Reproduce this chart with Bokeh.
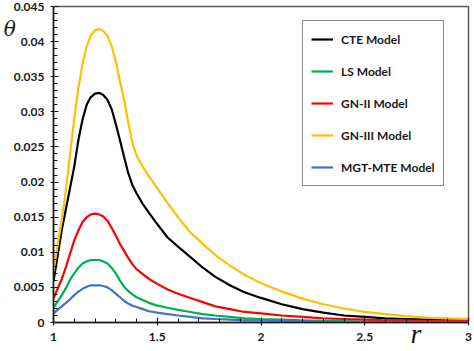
from bokeh.plotting import figure
from bokeh.models import Range1d, FixedTicker, Legend, LegendItem
from bokeh.embed import file_html
from bokeh.resources import INLINE

r = [1.00, 1.02, 1.04, 1.06, 1.08, 1.10, 1.12, 1.14, 1.16, 1.18, 1.20, 1.22, 1.24, 1.26,
     1.28, 1.30, 1.32, 1.34, 1.36, 1.38, 1.40, 1.43, 1.46, 1.50, 1.55, 1.60, 1.66, 1.72,
     1.78, 1.85, 1.92, 2.00, 2.10, 2.20, 2.30, 2.40, 2.50, 2.60, 2.70, 2.80, 2.90, 3.00]

cte = [0.0059, 0.0095, 0.0132, 0.0162, 0.0192, 0.0222, 0.0260, 0.0289, 0.0310, 0.0321,
       0.0326, 0.0327, 0.0324, 0.0317, 0.0304, 0.0283, 0.0260, 0.0236, 0.0213, 0.0196,
       0.0184, 0.0169, 0.0156, 0.0140, 0.0121, 0.0108, 0.0093, 0.0078, 0.0065, 0.0053,
       0.0043, 0.0035, 0.0026, 0.0019, 0.0014, 0.0010, 0.0008, 0.0006, 0.0005, 0.0004,
       0.0003, 0.0003]

ls = [0.0021, 0.0030, 0.0039, 0.0049, 0.0061, 0.0070, 0.0078, 0.0084, 0.0087, 0.0089,
      0.0089, 0.0089, 0.0087, 0.0084, 0.0078, 0.0070, 0.0060, 0.0051, 0.0045, 0.0040,
      0.0036, 0.0032, 0.0028, 0.0024, 0.0021, 0.0018, 0.0015, 0.0012, 0.0010, 0.0008,
      0.0006, 0.0005, 0.0004, 0.0003, 0.0002, 0.0002, 0.0001, 0.0001, 0.0001, 0.0001,
      0.0001, 0.0001]

gn2 = [0.0034, 0.0048, 0.0062, 0.0079, 0.0098, 0.0117, 0.0131, 0.0143, 0.0150, 0.0154,
       0.0155, 0.0154, 0.0151, 0.0145, 0.0135, 0.0124, 0.0112, 0.0102, 0.0092, 0.0083,
       0.0076, 0.0069, 0.0062, 0.0055, 0.0047, 0.0041, 0.0035, 0.0029, 0.0023, 0.0019,
       0.0015, 0.0013, 0.0010, 0.0008, 0.0006, 0.0005, 0.0004, 0.0003, 0.0003, 0.0002,
       0.0002, 0.0002]

gn3 = [0.0073, 0.0110, 0.0146, 0.0190, 0.0240, 0.0290, 0.0334, 0.0368, 0.0393, 0.0409,
       0.0416, 0.0418, 0.0415, 0.0408, 0.0394, 0.0372, 0.0344, 0.0318, 0.0285, 0.0256,
       0.0238, 0.0222, 0.0208, 0.0191, 0.0170, 0.0150, 0.0128, 0.0112, 0.0096, 0.0081,
       0.0068, 0.0056, 0.0044, 0.0034, 0.0026, 0.0020, 0.0015, 0.0012, 0.0009, 0.0007,
       0.0006, 0.0005]

mgt = [0.0013, 0.0018, 0.0023, 0.0028, 0.0033, 0.0039, 0.0044, 0.0048, 0.0051, 0.0053,
       0.0053, 0.0053, 0.0052, 0.0050, 0.0046, 0.0041, 0.0036, 0.0031, 0.0027, 0.0024,
       0.0022, 0.0019, 0.0016, 0.0014, 0.0012, 0.0010, 0.0008, 0.0006, 0.0005, 0.0004,
       0.0003, 0.0003, 0.0002, 0.0002, 0.0001, 0.0001, 0.0001, 0.0001, 0.0001, 0.0001,
       0.0001, 0.0001]

x_ticks = [1, 1.5, 2, 2.5, 3]
x_labels = ["1", "1.5", "2", "2.5", "3"]
y_ticks = [0, 0.005, 0.01, 0.015, 0.02, 0.025, 0.03, 0.035, 0.04, 0.045]
y_labels = ["0", "0.005", "0.01", "0.015", "0.02", "0.025", "0.03", "0.035", "0.04", "0.045"]

series = [("CTE Model", cte, "#000000"),
          ("LS Model", ls, "#00B050"),
          ("GN-II Model", gn2, "#FF0000"),
          ("GN-III Model", gn3, "#FFC000"),
          ("MGT-MTE Model", mgt, "#4472C4")]

p = figure(width=474, height=351, output_backend="svg", toolbar_location=None,
           x_range=Range1d(1, 3), y_range=Range1d(0, 0.045),
           min_border_left=10, min_border_right=6, min_border_top=6, min_border_bottom=28)

p.xgrid.visible = False
p.ygrid.visible = False
p.outline_line_color = "#595959"
p.outline_line_width = 1.5
p.background_fill_color = "white"
p.border_fill_color = "white"

items = []
renderers = {}
for name, vals, col in series:
    renderers[name] = p.line(r, vals, line_color=col, line_width=2.2)
for name, vals, col in series:
    items.append(LegendItem(label=name, renderers=[renderers[name]]))

for ax in (p.xaxis[0], p.yaxis[0]):
    ax.axis_line_color = "#1a1a1a"
    ax.axis_line_width = 1.5
    ax.major_tick_line_color = "#1a1a1a"
    ax.minor_tick_line_color = "#1a1a1a"
    ax.major_tick_line_width = 1.2
    ax.minor_tick_line_width = 1
    ax.major_tick_in = 5
    ax.major_tick_out = 3
    ax.minor_tick_in = 4
    ax.minor_tick_out = 0
    ax.major_label_text_font = "Lato"
    ax.major_label_text_font_style = "bold"
    ax.major_label_text_font_size = "12px"
    ax.major_label_text_color = "#1a1a1a"

p.xaxis[0].ticker = FixedTicker(ticks=x_ticks,
                                minor_ticks=[1 + 0.1 * i for i in range(21)])
p.xaxis[0].major_label_overrides = dict(zip(x_ticks, x_labels))
p.xaxis[0].major_label_standoff = 7
p.yaxis[0].ticker = FixedTicker(ticks=y_ticks,
                                minor_ticks=[0.001 * i for i in range(46)])
p.yaxis[0].major_label_overrides = dict(zip(y_ticks, y_labels))
p.yaxis[0].major_label_standoff = 6

yax = p.yaxis[0]
yax.axis_label = "\nθ"
yax.axis_label_orientation = "horizontal"
yax.axis_label_align = "end"
yax.axis_label_standoff = -5
yax.axis_label_text_font = "DejaVu Serif"
yax.axis_label_text_font_style = "italic"
yax.axis_label_text_font_size = "20px"
yax.axis_label_text_line_height = 1.9
yax.axis_label_text_color = "#1a1a1a"

xax = p.xaxis[0]
xax.axis_label = "r" + "\u00a0" * 15
xax.axis_label_align = "end"
xax.axis_label_standoff = -26
xax.axis_label_text_font = "Liberation Serif"
xax.axis_label_text_font_style = "italic"
xax.axis_label_text_font_size = "28px"
xax.axis_label_text_color = "#1a1a1a"

legend = Legend(items=items, location=(249, 136), border_line_color="#1a1a1a",
                border_line_width=1.5, padding=8, margin=0, spacing=12,
                label_height=20, glyph_height=20, glyph_width=22, label_standoff=8,
                label_text_font="Lato", label_text_font_style="bold",
                label_text_font_size="12px", label_text_color="#1a1a1a",
                background_fill_alpha=1.0)
p.add_layout(legend)

open("out.html", "w").write(file_html(p, INLINE))
